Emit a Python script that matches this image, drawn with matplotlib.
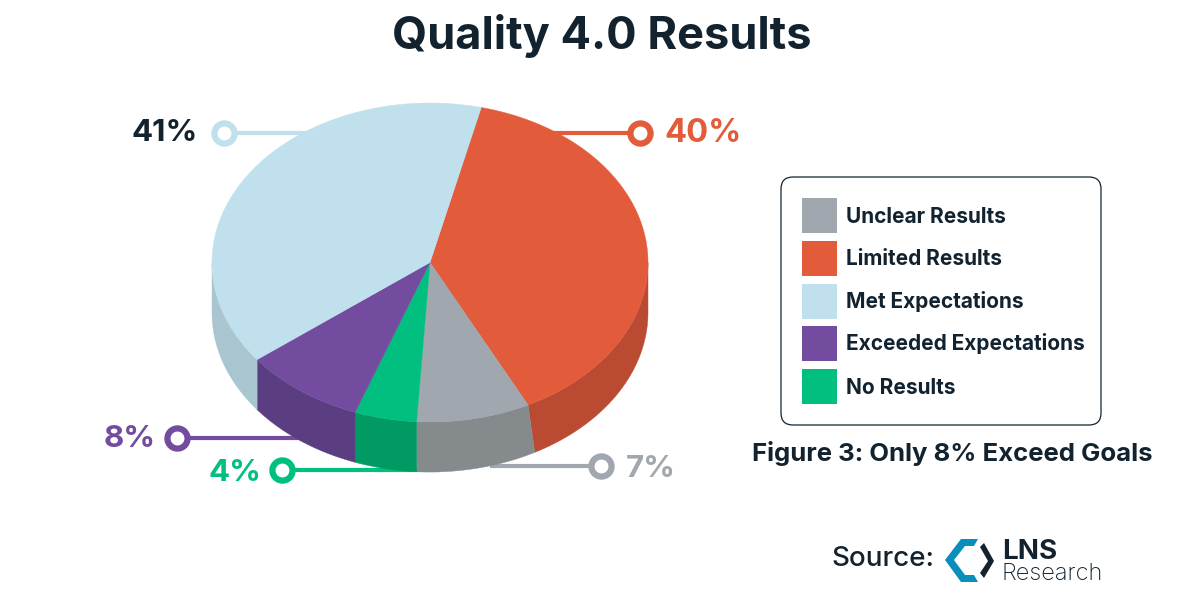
import numpy as np
import matplotlib
matplotlib.use('Agg')
import matplotlib.pyplot as plt
from matplotlib.patches import FancyBboxPatch, Polygon, Rectangle

plt.rcParams['font.family'] = ['Inter', 'DejaVu Sans']

# clockwise from the red/blue edge
slice_names = ['Limited Results', 'Unclear Results', 'No Results', 'Exceeded Expectations', 'Met Expectations']
slice_labels = ['40%', '7%', '4%', '8%', '41%']
# drawn shares, they differ a bit from the printed labels
slice_shares = [38.8, 8.4, 4.6, 9.0, 39.2]
top_colors = ['#e25c3c', '#a0a7ae', '#00bf7f', '#734ca0', '#c0e0ed']
side_colors = ['#bb4a33', '#858a8c', '#029a63', '#5b3e82', '#a8c5d0']
legend_order = ['Unclear Results', 'Limited Results', 'Met Expectations', 'Exceeded Expectations', 'No Results']

DARK = '#12232f'
CX, CY, RX, RY, DEPTH = 430, 262.5, 218, 159.5, 50
START = 76.4
SKEW = 2  # red/grey wall edge leans a little in the original

fig = plt.figure(figsize=(12.01, 6.01), dpi=100)
ax = fig.add_axes([0, 0, 1, 1])
ax.set_xlim(0, 1201)
ax.set_ylim(601, 0)
ax.axis('off')


def arc(a0, a1, drop=0):
    t = np.radians(np.linspace(a0, a1, 200))
    return np.column_stack([CX + RX * np.cos(t), CY - RY * np.sin(t) + drop])


# leader lines sit behind the pie: line start, ring pos, text pos, align, size
leaders = {
    '40%': ((540, 133), (640, 133), (664, 134), 'left', 23.5),
    '7%': ((490, 466), (601, 466), (626, 469), 'left', 22.5),
    '4%': ((440, 470), (282, 470), (261, 473), 'right', 22.5),
    '8%': ((320, 438), (177, 438), (156, 439), 'right', 22.5),
    '41%': ((310, 133), (224, 133), (198, 133), 'right', 22.5),
}
for label, color in zip(slice_labels, top_colors):
    (x0, y0), (x1, y1), (tx, ty), ha, size = leaders[label]
    ax.plot([x0, x1], [y0, y1], color=color, lw=3, zorder=1, solid_capstyle='butt')
    ax.plot([x1], [y1], 'o', ms=14.5, mfc='white', mec=color, mew=4.5, zorder=2)
    ax.text(tx, ty, label, color=color if label != '41%' else DARK, fontsize=size,
            fontweight='bold', ha=ha, va='center', zorder=2)

edges = START - np.cumsum([0] + slice_shares) * 3.6 * 100 / sum(slice_shares)
for i in range(len(slice_shares)):
    a0, a1 = edges[i], edges[i + 1]
    # only the front half of the wall can be seen
    w0, w1 = min(a0, 0), max(a1, -180)
    if a0 > 0 and a1 > 0:
        w0, w1 = 0, 0
    if a1 < -180 and a0 > 0:
        w0, w1 = -180, a1
    if a1 < -180 and a0 < 0:
        w0, w1 = a0, -180
    if w0 != w1:
        # the shared red/grey edge is lower down at a slightly different angle
        b0 = w0 + SKEW if i == 1 else w0
        b1 = w1 + SKEW if i == 0 else w1
        top = arc(w0, w1)
        bottom = arc(b1, b0, DEPTH)
        ax.add_patch(Polygon(np.vstack([top, bottom]), fc=side_colors[i], ec=side_colors[i], lw=0.3, zorder=3))
    ax.add_patch(Polygon(np.vstack([[[CX, CY]], arc(a0, a1)]), fc=top_colors[i], ec=top_colors[i], lw=0.3, zorder=4))

ax.text(601.5, 36, 'Quality 4.0 Results', color=DARK, fontsize=32.5, fontweight='bold', ha='center', va='center')

# legend box
ax.add_patch(FancyBboxPatch((793, 189), 296, 224, boxstyle='round,pad=12,rounding_size=12',
                            fc='white', ec=DARK, lw=0.9))
legend_y = [215, 258, 301, 343, 386]
legend_text_y = [217, 259, 302, 344, 388]
for name, y, ty in zip(legend_order, legend_y, legend_text_y):
    color = top_colors[slice_names.index(name)]
    ax.add_patch(Rectangle((802, y - 17.5), 35, 35, fc=color, ec='none'))
    ax.text(846, ty, name, color=DARK, fontsize=15, fontweight='bold', va='center')

ax.text(952.5, 454, 'Figure 3: Only 8% Exceed Goals', color=DARK, fontsize=18.5, fontweight='bold',
        ha='center', va='center')
ax.text(831, 559, 'Source:', color=DARK, fontsize=20, fontweight='medium', va='center')

# logo
ax.add_patch(Polygon([[945, 560], [961, 539], [978, 539], [974, 546], [965, 546], [954, 560],
                      [965, 575], [974, 575], [978, 582], [961, 582]], fc='#0a8fbd', ec='none'))
ax.add_patch(Polygon([[980, 547], [984, 543], [994, 561], [984, 578], [980, 573], [988, 561]], fc=DARK, ec='none'))
ax.text(1002, 552, 'LNS', color=DARK, fontsize=20, fontweight='bold', va='center')
ax.text(1002, 574, 'Research', color=DARK, fontsize=17, fontweight='light', va='center')

fig.savefig('out.png', dpi=100)
